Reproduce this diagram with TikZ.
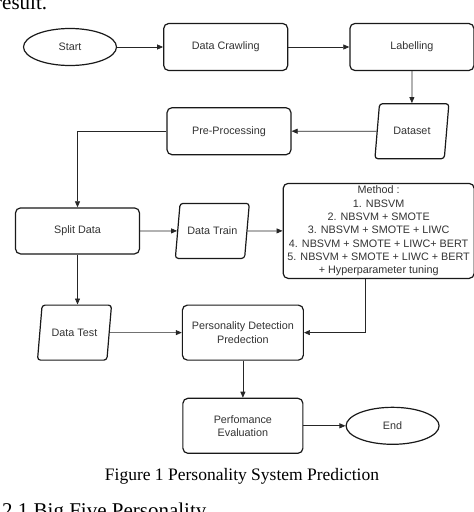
\documentclass[tikz,border=0pt]{standalone}
\usepackage{fontspec}
\setmainfont{Liberation Sans}
\newfontfamily\seriffont{Liberation Serif}
\usetikzlibrary{shapes.geometric, arrows.meta, positioning}
\tikzset{
    box/.style={draw=black!90, line width=1.2pt, fill=white, rounded corners=5pt, align=center, text=black!80, font=\fontsize{10.8}{13.3}\selectfont, minimum width=124pt, minimum height=47pt, inner sep=1pt},
    terminal/.style={draw=black!90, line width=1.2pt, ellipse, fill=white, text=black!80, font=\fontsize{10.8}{13.3}\selectfont, minimum width=93pt, minimum height=37pt},
    io/.style={draw=black!90, line width=1.2pt, trapezium, trapezium left angle=72, trapezium right angle=108, trapezium stretches body, rounded corners=3pt, fill=white, text=black!80, font=\fontsize{10.8}{13.3}\selectfont, minimum width=74pt, minimum height=55pt},
    arrow/.style={-{Triangle[length=6pt,width=5pt]}, line width=0.7pt, black!85},
    pagetext/.style={font=\seriffont\fontsize{17.5}{20}\selectfont, inner sep=0pt}
}
\begin{document}
\begin{tikzpicture}[node distance=40pt]
        \useasboundingbox [fill=white] (-70pt,47pt) rectangle (404pt,-465pt);
        \clip (-70pt,47pt) rectangle (404pt,-465pt);
        \node [terminal] (start) at (0,0) {Start};
        \node [box, right=46pt of start] (crawl) {Data Crawling};
        \node [box, right=61pt of crawl] (label) {Labelling};
        \node [io, below=32pt of label] (dataset) {Dataset};
        \node [box, left=85pt of dataset] (prep) {Pre-Processing};
        \node [box, below=52pt of prep, xshift=-151.5pt, minimum height=46pt] (split) {Split Data};
        \node [io, right=37pt of split] (train) {Data Train};
        \node [box, right=35pt of train, minimum width=191pt, minimum height=95pt] (method) {Method :\\1. NBSVM\\2. NBSVM + SMOTE\\3. NBSVM + SMOTE + LIWC\\4. NBSVM + SMOTE + LIWC+ BERT\\5. NBSVM + SMOTE + LIWC + BERT\\+ Hyperparameter tuning};
        \node [io, below=50pt of split, xshift=-3pt] (test) {Data Test};
        \node [box, right=72pt of test, minimum width=121pt, minimum height=55pt] (detect) {Personality Detection\\Predection};
        \node [box, below=37pt of detect, minimum width=120pt, minimum height=55pt] (perf) {Perfomance\\Evaluation};
        \node [terminal, right=42pt of perf] (end) {End};
        \draw [arrow] (start) -- (crawl);
        \draw [arrow] (crawl) -- (label);
        \draw [arrow] (label) -- (dataset);
        \draw [arrow] (dataset) -- (prep);
        \draw [arrow] (prep.west) -| (split.north);
        \draw [arrow] (split) -- (train);
        \draw [arrow] (train) -- (method);
        \draw [arrow] (split.south) -- (split.south |- test.north);
        \draw [arrow] (test) -- (detect);
        \draw [arrow] ([xshift=-13.5pt]method.south) |- (detect.east);
        \draw [arrow] (detect) -- (perf);
        \draw [arrow] (perf) -- (end);
        \node [pagetext, font=\seriffont\fontsize{21}{24}\selectfont, anchor=base west] (prevtext) at (-75pt,38pt) {result.};
        \node [pagetext, anchor=base] (caption) at (172pt,-433pt) {Figure 1 Personality System Prediction};
        \node [pagetext, font=\seriffont\fontsize{21}{24}\selectfont, anchor=base west] (section) at (-68pt,-470pt) {2.1 Big Five Personality};
    \end{tikzpicture}
\end{document}
